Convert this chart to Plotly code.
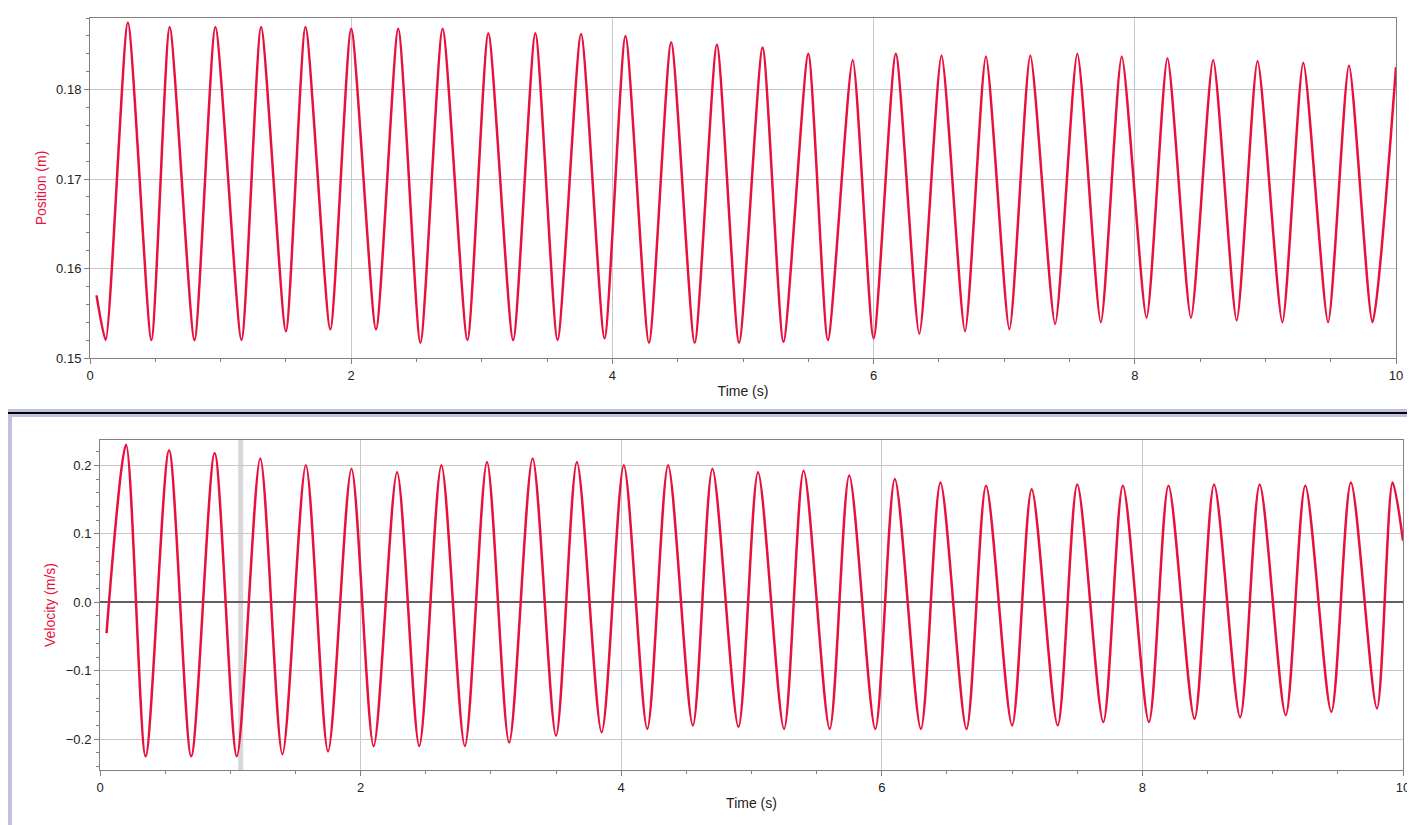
import plotly.graph_objects as go

# Position extrema (time s, position m)
pos_t = [0.05,0.12,0.29,0.47,0.61,0.80,0.96,1.16,1.31,1.50,1.65,1.84,2.00,2.19,2.36,2.53,2.70,2.89,3.05,3.24,3.41,3.58,3.76,3.94,4.10,4.28,4.45,4.63,4.80,4.97,5.15,5.31,5.50,5.65,5.84,6.00,6.17,6.35,6.52,6.70,6.86,7.04,7.20,7.39,7.56,7.74,7.90,8.09,8.25,8.43,8.60,8.78,8.94,9.13,9.29,9.48,9.64,9.82,10.0]
pos_v = [0.157,0.152,0.1875,0.152,0.187,0.152,0.187,0.152,0.187,0.153,0.187,0.1532,0.1868,0.1532,0.1868,0.1517,0.1868,0.152,0.1863,0.152,0.1863,0.152,0.1862,0.1522,0.186,0.1517,0.1853,0.1517,0.185,0.1517,0.1847,0.1518,0.184,0.152,0.1833,0.1522,0.184,0.1527,0.1838,0.153,0.1837,0.1532,0.1838,0.1538,0.184,0.154,0.1837,0.1545,0.1835,0.1545,0.1833,0.1542,0.1832,0.154,0.183,0.154,0.1827,0.154,0.1825]

# Velocity extrema (time s, velocity m/s)
vel_t = [0.05,0.20,0.35,0.53,0.70,0.88,1.05,1.23,1.40,1.58,1.75,1.93,2.10,2.28,2.45,2.62,2.80,2.97,3.14,3.32,3.50,3.66,3.85,4.02,4.20,4.36,4.55,4.70,4.90,5.05,5.25,5.40,5.60,5.75,5.95,6.10,6.30,6.45,6.65,6.80,7.00,7.15,7.35,7.50,7.70,7.85,8.05,8.20,8.40,8.55,8.75,8.90,9.10,9.25,9.45,9.60,9.80,9.92,10.0]
vel_v = [-0.045,0.23,-0.225,0.222,-0.225,0.218,-0.225,0.21,-0.222,0.2,-0.218,0.195,-0.21,0.19,-0.21,0.2,-0.21,0.205,-0.205,0.21,-0.195,0.205,-0.19,0.2,-0.185,0.2,-0.18,0.195,-0.182,0.19,-0.185,0.192,-0.185,0.185,-0.185,0.18,-0.185,0.175,-0.185,0.17,-0.18,0.165,-0.18,0.172,-0.175,0.17,-0.175,0.17,-0.17,0.172,-0.168,0.172,-0.165,0.17,-0.16,0.175,-0.155,0.175,0.09]

red = "#e8103c"
fig = go.Figure()
fig.add_trace(go.Scatter(x=pos_t, y=pos_v, mode="lines", line=dict(color=red, width=2.5, shape="spline", smoothing=0.6), xaxis="x", yaxis="y", showlegend=False))
fig.add_trace(go.Scatter(x=vel_t, y=vel_v, mode="lines", line=dict(color=red, width=2.5, shape="spline", smoothing=0.8), xaxis="x2", yaxis="y2", showlegend=False))

W, H = 1415, 825
ax = dict(showline=True, linecolor="#808080", mirror=True, gridcolor="#c8c8c8", zeroline=False, automargin=False,
          ticks="outside", tickcolor="#808080", tickfont=dict(family="Arial", size=13, color="#222"))
mx = dict(ticks="outside", ticklen=3, dtick=0.5, tickcolor="#808080")
fig.update_layout(
    width=W, height=H, margin=dict(l=0, r=0, t=0, b=0),
    paper_bgcolor="white", plot_bgcolor="white",
    xaxis=dict(ax, domain=[82/W, 1388/W], range=[0, 10], dtick=2, minor=mx,
               title=dict(text="Time (s)", font=dict(family="Arial", size=14, color="#222"), standoff=4), anchor="y"),
    yaxis=dict(ax, domain=[1-350/H, 1-10/H], range=[0.15, 0.188], dtick=0.01, tickformat=".2f",
               minor=dict(ticks="outside", ticklen=3, dtick=0.002, tickcolor="#808080"),
               title=dict(text="Position (m)", font=dict(family="Arial", size=14, color=red), standoff=6), anchor="x"),
    xaxis2=dict(ax, domain=[92/W, 1395/W], range=[0, 10], dtick=2, minor=mx,
                title=dict(text="Time (s)", font=dict(family="Arial", size=14, color="#222"), standoff=4), anchor="y2"),
    yaxis2=dict(ax, domain=[1-762/H, 1-432/H], range=[-0.245, 0.237], dtick=0.1, tickformat=".1f",
                minor=dict(ticks="outside", ticklen=3, dtick=0.02, tickcolor="#808080"),
                zeroline=True, zerolinecolor="#606060", zerolinewidth=1.5,
                title=dict(text="Velocity (m/s)", font=dict(family="Arial", size=14, color=red), standoff=6), anchor="x2"),
    shapes=[
        dict(type="rect", xref="paper", yref="paper", x0=0, x1=1, y0=0, y1=1-405/H, line=dict(color="#c0c0e0", width=8), layer="below"),
        dict(type="line", xref="paper", yref="paper", x0=0, x1=1, y0=1-405/H, y1=1-405/H, line=dict(color="black", width=2)),
        dict(type="line", xref="paper", yref="paper", x0=1-2/W, x1=1-2/W, y0=1-405/H, y1=1, line=dict(color="#c0c0e0", width=6)),
        dict(type="line", xref="x2", yref="y2", x0=1.08, x1=1.08, y0=-0.245, y1=0.237, line=dict(color="#d8d8d8", width=5), layer="below"),
    ],
)
fig.write_html("out.html")
